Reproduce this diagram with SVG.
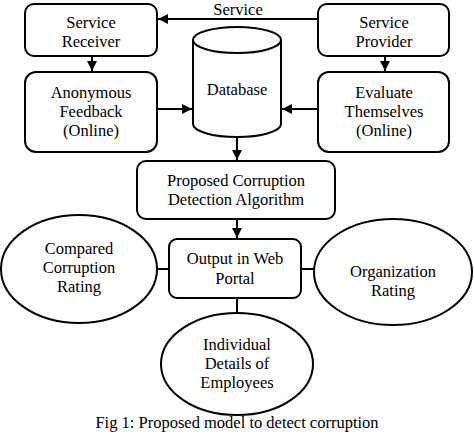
<svg xmlns="http://www.w3.org/2000/svg" width="474" height="447" viewBox="0 0 474 447">
<defs>
<marker id="ah" viewBox="0 0 10 10" refX="10" refY="5" markerWidth="10" markerHeight="10" markerUnits="userSpaceOnUse" orient="auto">
<path d="M0,0 L10,5 L0,10 Z" fill="#000"/>
</marker>
</defs>
<style>
.box{fill:#fff;stroke:#000;stroke-width:2}
.ln{fill:none;stroke:#000;stroke-width:2}
.t{font-family:"Liberation Serif","Times New Roman",serif;font-size:16.5px;fill:#000;text-anchor:middle}
</style>
<rect width="474" height="447" fill="#fff"/>
<g id="connectors">
<line class="ln" x1="318" y1="19" x2="158" y2="19" marker-end="url(#ah)"/>
<text class="t" x="238" y="15">Service</text>
<line class="ln" x1="92" y1="56" x2="92" y2="71" marker-end="url(#ah)"/>
<line class="ln" x1="385" y1="56" x2="385" y2="71" marker-end="url(#ah)"/>
<line class="ln" x1="157" y1="109" x2="192" y2="109" marker-end="url(#ah)"/>
<line class="ln" x1="318" y1="109" x2="282" y2="109" marker-end="url(#ah)"/>
<line class="ln" x1="237" y1="137" x2="237" y2="160" marker-end="url(#ah)"/>
<line class="ln" x1="237" y1="219" x2="237" y2="238" marker-end="url(#ah)"/>
<line class="ln" x1="157" y1="269" x2="169" y2="269"/>
<line class="ln" x1="301" y1="269" x2="314" y2="269"/>
<line class="ln" x1="237" y1="298" x2="237" y2="313"/>
</g>
<g id="service-receiver">
<rect class="box" x="25" y="4" width="132" height="52" rx="9"/>
<text class="t" x="91" y="28">Service</text>
<text class="t" x="91" y="47">Receiver</text>
</g>
<g id="anonymous-feedback">
<rect class="box" x="25" y="72" width="132" height="80" rx="11"/>
<text class="t" x="91" y="98">Anonymous</text>
<text class="t" x="91" y="117">Feedback</text>
<text class="t" x="91" y="136">(Online)</text>
</g>
<g id="database">
<path class="box" d="M193,40 L193,124 A44,13 0 0 0 281,124 L281,40"/>
<ellipse class="box" cx="237" cy="40" rx="44" ry="13"/>
<text class="t" x="237" y="95">Database</text>
</g>
<g id="service-provider">
<rect class="box" x="318" y="4" width="131" height="52" rx="9"/>
<text class="t" x="384" y="28">Service</text>
<text class="t" x="384" y="47">Provider</text>
</g>
<g id="evaluate-themselves">
<rect class="box" x="318" y="72" width="131" height="80" rx="11"/>
<text class="t" x="384" y="98">Evaluate</text>
<text class="t" x="384" y="117">Themselves</text>
<text class="t" x="384" y="136">(Online)</text>
</g>
<g id="algorithm">
<rect class="box" x="137" y="161" width="198" height="58" rx="9"/>
<text class="t" x="236" y="186">Proposed Corruption</text>
<text class="t" x="236" y="205">Detection Algorithm</text>
</g>
<g id="output">
<rect class="box" x="169" y="239" width="132" height="59" rx="8"/>
<text class="t" x="235" y="264">Output in Web</text>
<text class="t" x="235" y="284">Portal</text>
</g>
<g id="compared-rating">
<ellipse class="box" cx="79" cy="269" rx="78" ry="54"/>
<text class="t" x="79" y="254">Compared</text>
<text class="t" x="79" y="273">Corruption</text>
<text class="t" x="79" y="292">Rating</text>
</g>
<g id="organization-rating">
<ellipse class="box" cx="393" cy="272" rx="79" ry="53"/>
<text class="t" x="393" y="277">Organization</text>
<text class="t" x="393" y="296">Rating</text>
</g>
<g id="individual-details">
<ellipse class="box" cx="237" cy="364" rx="76" ry="51"/>
<text class="t" x="237" y="350">Individual</text>
<text class="t" x="237" y="369">Details of</text>
<text class="t" x="237" y="388">Employees</text>
</g>
<text class="t" x="237" y="428">Fig 1: Proposed model to detect corruption</text>
</svg>
